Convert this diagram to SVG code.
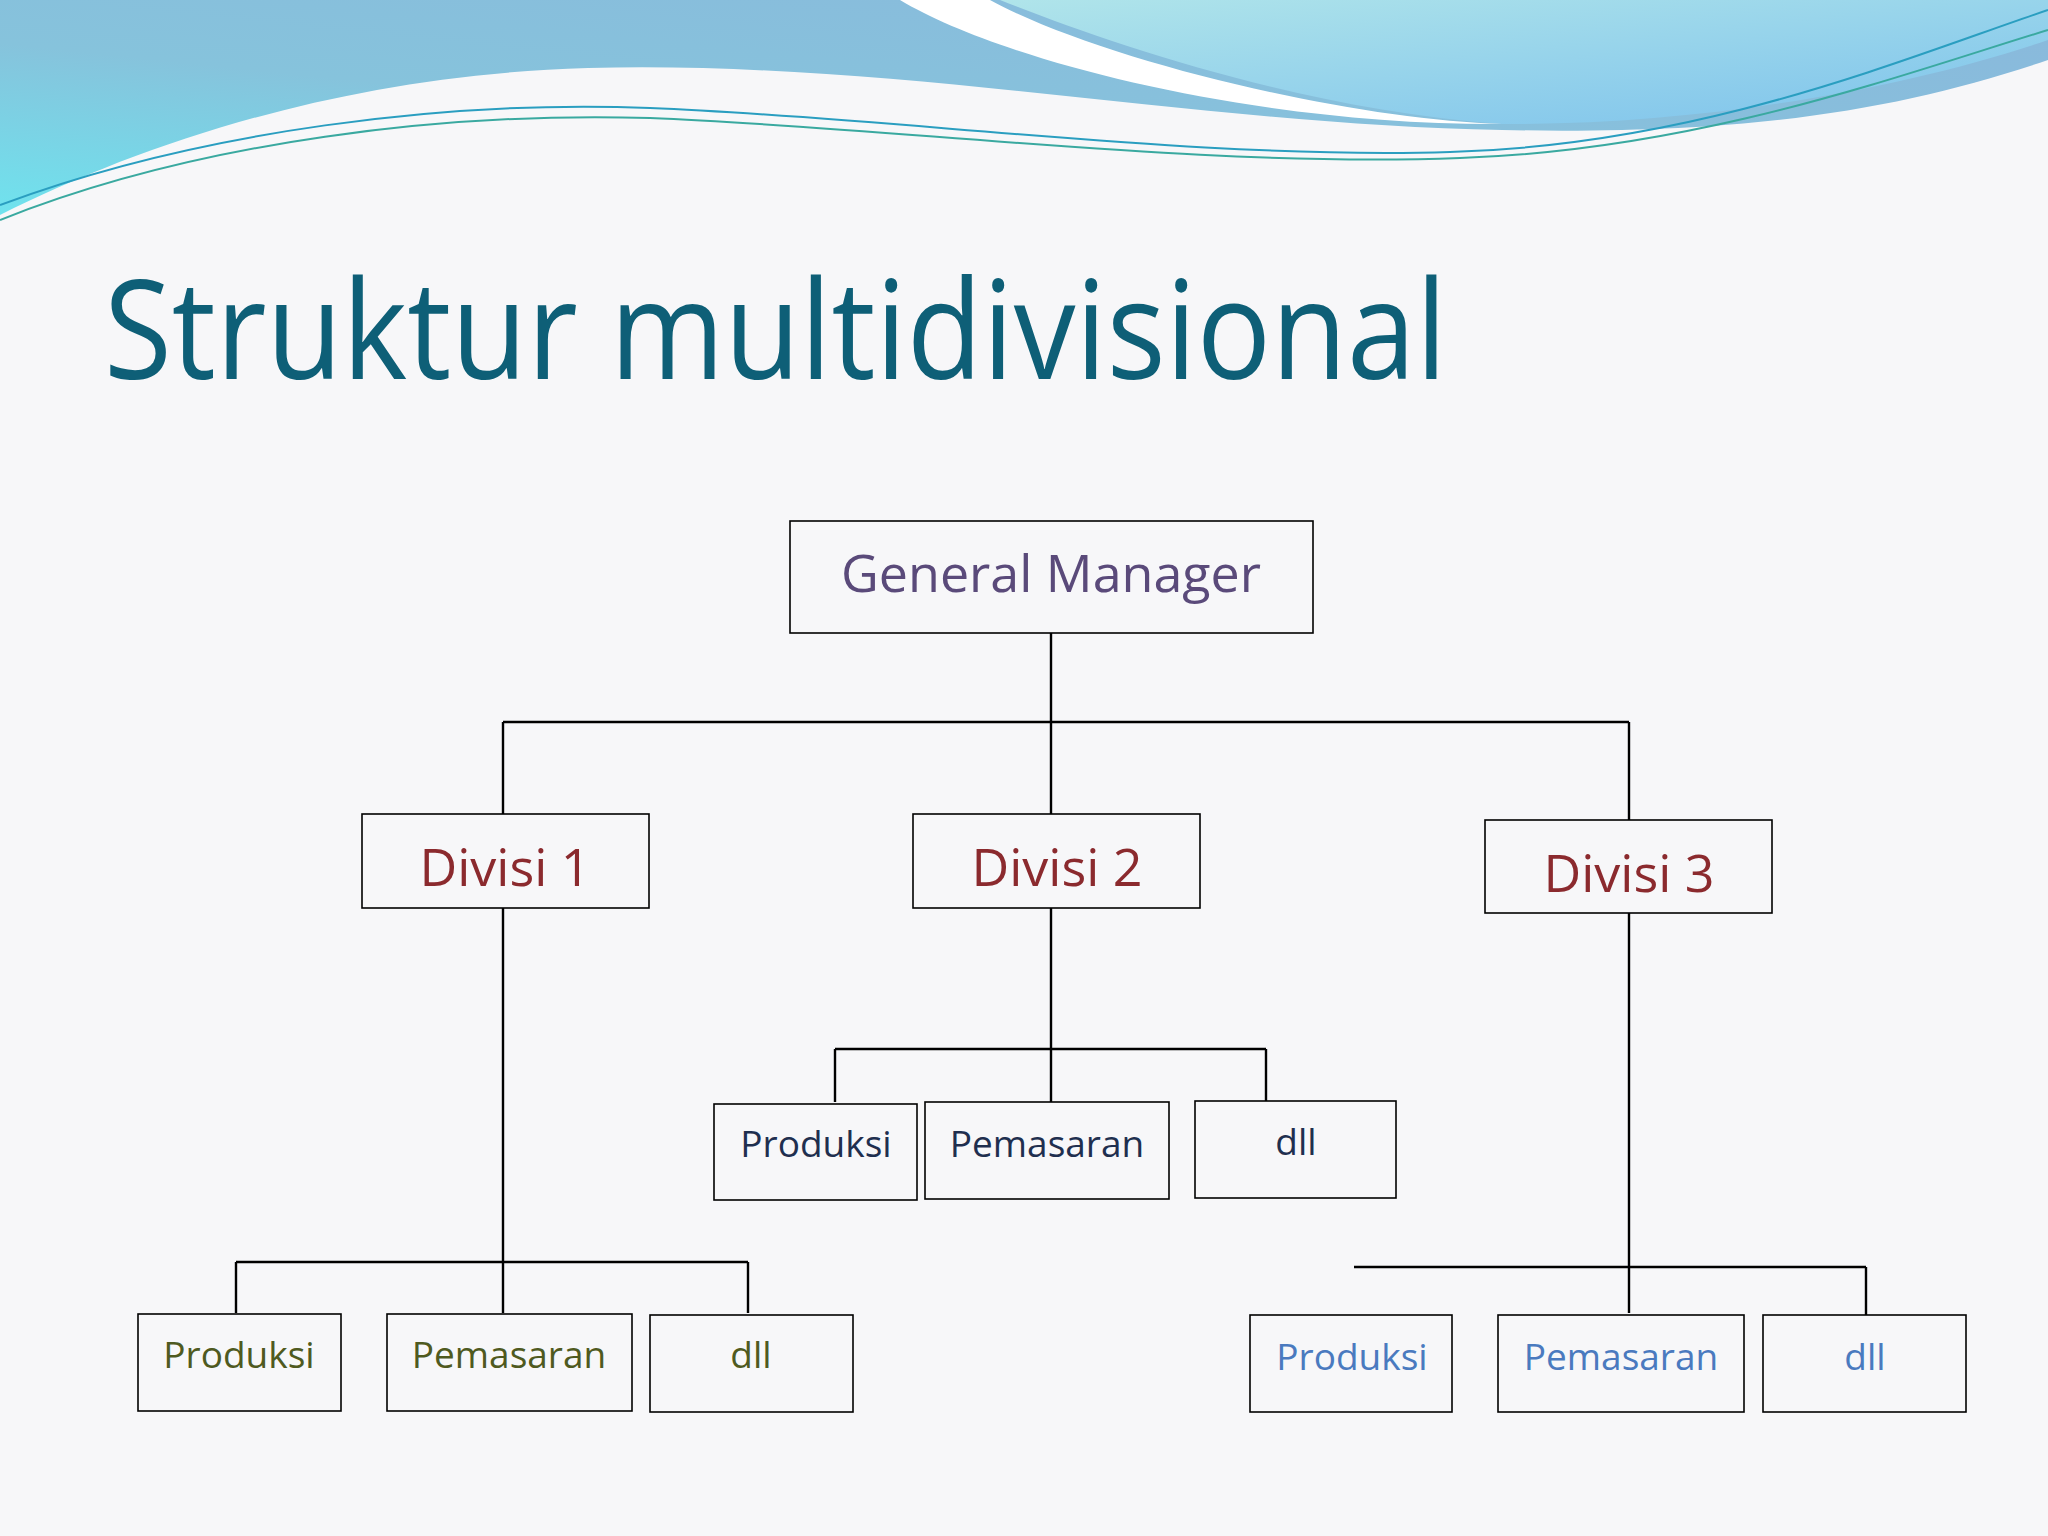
<svg xmlns="http://www.w3.org/2000/svg" width="2048" height="1536" viewBox="0 0 2048 1536">
<defs>
<linearGradient id="bg1" x1="0" y1="1" x2="1" y2="0"><stop offset="0" stop-color="#6fe3ee"/><stop offset="0.4" stop-color="#86c3dc"/><stop offset="1" stop-color="#8ab8dc"/></linearGradient>
<linearGradient id="bg2" x1="0" y1="0" x2="1" y2="1"><stop offset="0" stop-color="#b2e6ea"/><stop offset="1" stop-color="#7dc2ec"/></linearGradient>
<style>
.box{fill:none;stroke:#000;stroke-width:1.6}
.ln{stroke:#000;stroke-width:2.4;fill:none}
text{font-family:"Open Sans","Noto Sans","DejaVu Sans",sans-serif;text-anchor:middle}
.div{font-size:52px;fill:#8b2a2e}
.s{font-size:37px}
</style>
</defs>
<rect width="2048" height="1536" fill="#f7f7f9"/>
<path d="M0,0 H2048 V60 C1900,110 1750,135 1502,130 C1200,125 900,60 588,68 C350,75 150,140 0,215 Z" fill="url(#bg1)"/>
<path d="M900,0 H2048 V40 C1900,90 1700,125 1502,124 C1300,110 1100,40 1000,0 Z" fill="url(#bg2)"/>
<path d="M900,0 C1000,60 1250,125 1502,124 C1350,120 1100,60 990,0 Z" fill="#ffffff"/>
<path d="M0,205 C200,130 450,100 650,108 C900,118 1200,160 1450,152 C1700,145 1900,60 2048,10" fill="none" stroke="#2a9ec0" stroke-width="2"/>
<path d="M0,220 C200,140 450,112 650,118 C900,128 1200,168 1460,158 C1700,150 1900,75 2048,30" fill="none" stroke="#3aa9a0" stroke-width="2"/>
<text x="104" y="379" style="font-size:137px;fill:#0e5f77;text-anchor:start" textLength="1343" lengthAdjust="spacingAndGlyphs">Struktur multidivisional</text>
<g id="connectors">
<path class="ln" d="M1051,633 V814 M503,722 H1629 M503,722 V814 M1629,722 V820"/>
<path class="ln" d="M503,908 V1313 M236,1262 H748 M236,1262 V1313 M748,1262 V1313"/>
<path class="ln" d="M1051,908 V1102 M835,1049 H1266 M835,1049 V1102 M1266,1049 V1101"/>
<path class="ln" d="M1629,913 V1313 M1354,1267 H1866 M1866,1267 V1315"/>
</g>
<g id="gm"><rect class="box" x="790" y="521" width="523" height="112"/><text x="1051" y="592" style="font-size:52px;fill:#5a4a7a">General Manager</text></g>
<g id="divisi1"><rect class="box" x="362" y="814" width="287" height="94"/><text class="div" x="505" y="886">Divisi 1</text></g>
<g id="divisi2"><rect class="box" x="913" y="814" width="287" height="94"/><text class="div" x="1057" y="886">Divisi 2</text></g>
<g id="divisi3"><rect class="box" x="1485" y="820" width="287" height="93"/><text class="div" x="1629" y="892">Divisi 3</text></g>
<g id="d1p"><rect class="box" x="138" y="1314" width="203" height="97"/><text class="s" x="239" y="1368" fill="#4f5a1f">Produksi</text></g>
<g id="d1m"><rect class="box" x="387" y="1314" width="245" height="97"/><text class="s" x="509" y="1368" fill="#4f5a1f">Pemasaran</text></g>
<g id="d1d"><rect class="box" x="650" y="1315" width="203" height="97"/><text class="s" x="751" y="1368" fill="#4f5a1f">dll</text></g>
<g id="d2p"><rect class="box" x="714" y="1104" width="203" height="96"/><text class="s" x="816" y="1157" fill="#1f2f4f">Produksi</text></g>
<g id="d2m"><rect class="box" x="925" y="1102" width="244" height="97"/><text class="s" x="1047" y="1157" fill="#1f2f4f">Pemasaran</text></g>
<g id="d2d"><rect class="box" x="1195" y="1101" width="201" height="97"/><text class="s" x="1296" y="1155" fill="#1f2f4f">dll</text></g>
<g id="d3p"><rect class="box" x="1250" y="1315" width="202" height="97"/><text class="s" x="1352" y="1370" fill="#4a7abf">Produksi</text></g>
<g id="d3m"><rect class="box" x="1498" y="1315" width="246" height="97"/><text class="s" x="1621" y="1370" fill="#4a7abf">Pemasaran</text></g>
<g id="d3d"><rect class="box" x="1763" y="1315" width="203" height="97"/><text class="s" x="1865" y="1370" fill="#4a7abf">dll</text></g>
</svg>
